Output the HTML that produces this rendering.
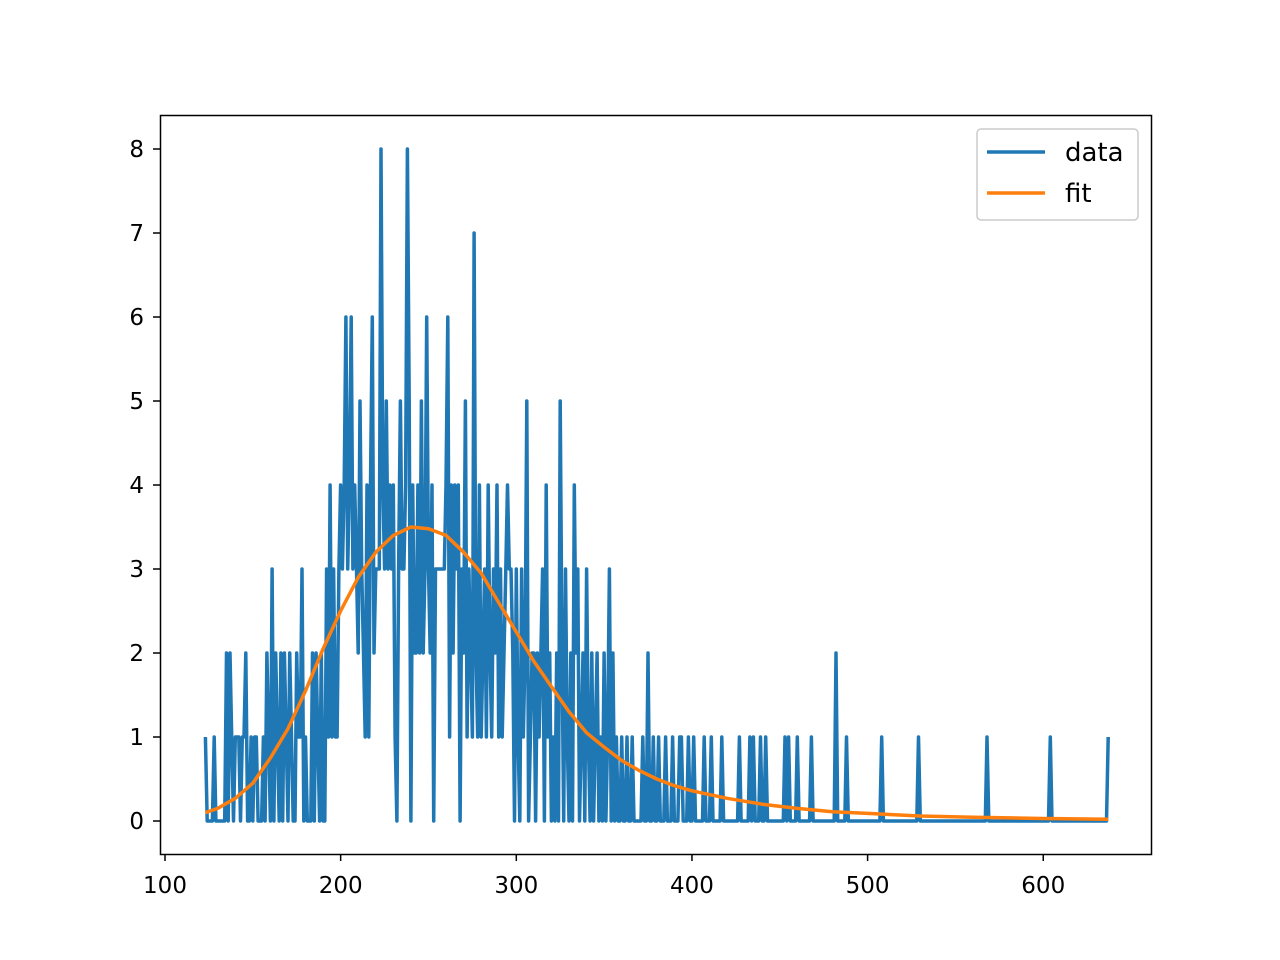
<!DOCTYPE html>
<html><head><meta charset="utf-8"><style>
body{margin:0;background:#fff;}
svg{display:block;font-family:"DejaVu Sans","Liberation Sans",sans-serif;}
</style></head><body>
<svg id="chart" width="1280" height="960" xmlns="http://www.w3.org/2000/svg">
<rect width="1280" height="960" fill="#fff"/>
<g id="marks"></g>
<rect x="160.5" y="115.5" width="991" height="739" fill="none" stroke="#000" stroke-width="1.5"/>
<g id="axes"></g>
<g>
<rect x="977" y="129" width="161" height="91" rx="4" fill="#fff" fill-opacity="0.8" stroke="#ccc" stroke-width="1.5"/>
<line x1="987" y1="152" x2="1045" y2="152" stroke="#1f77b4" stroke-width="3.5"/>
<text x="1065" y="161" font-size="26">data</text>
<line x1="987" y1="193" x2="1045" y2="193" stroke="#ff7f0e" stroke-width="3.5"/>
<text x="1065" y="202" font-size="26">fit</text>
</g>
</svg>
<script>
const dataStart = 123;
const dataValues = [
1,0,0,0,0,1,0,0,0,0,0,0,2,0,2,1,0,1,1,1,
0,1,1,2,0,0,1,0,1,1,0,0,0,1,0,2,1,0,3,0,
2,1,0,2,0,2,1,0,2,1,0,0,2,1,1,3,0,1,0,0,
0,2,0,2,1,0,2,0,0,3,1,4,1,3,1,1,3,4,3,4,
6,3,4,6,3,4,3,2,5,3,2,1,4,1,4,6,2,3,3,3,
8,4,3,5,3,4,3,4,1,0,3,5,3,3,4,8,5,0,4,2,
2,4,2,5,2,3,6,3,2,4,0,3,3,3,3,3,3,4,6,1,
4,2,4,3,4,0,3,2,5,1,3,2,1,7,2,1,4,1,2,3,
1,4,2,1,3,2,4,1,3,1,2,3,4,3,3,2,0,3,1,0,
3,1,2,5,0,1,2,2,0,2,1,2,3,0,4,1,2,0,1,0,
2,0,5,2,0,3,1,0,2,0,4,2,3,0,1,2,0,3,1,0,
2,0,1,2,0,1,0,2,0,1,3,0,2,0,1,0,0,1,0,0,
1,0,0,1,0,0,0,0,0,1,0,0,2,0,0,1,0,0,1,0,
0,0,1,0,0,0,1,0,0,0,1,1,0,0,0,1,0,0,1,0,
0,0,0,0,1,0,0,0,1,0,0,0,0,0,1,0,0,0,0,0,
0,0,0,0,1,0,0,0,0,0,1,0,1,0,0,0,1,0,0,1,
0,0,0,0,0,0,0,0,0,0,1,0,1,0,0,0,0,1,0,0,
0,0,0,0,0,1,0,0,0,0,0,0,0,0,0,0,0,0,0,2
];
const dataEnd = 637;
const spikeX = [488, 508, 529, 568, 604, 637];
const spikeY = [1, 1, 1, 1, 1, 1];
const fitX = [123,130,140,150,160,170,180,190,200,210,220,230,240,250,260,270,280,290,300,310,320,330,340,350,360,370,380,390,400,420,440,460,480,500,530,560,600,637];
const fitY = [0.1,0.15,0.27,0.45,0.75,1.1,1.55,2.05,2.5,2.9,3.2,3.4,3.5,3.48,3.4,3.2,2.95,2.6,2.25,1.9,1.6,1.3,1.05,0.88,0.72,0.6,0.5,0.42,0.36,0.27,0.2,0.15,0.11,0.09,0.06,0.045,0.03,0.02];
const xTicks = [100,200,300,400,500,600];
const yTicks = [0,1,2,3,4,5,6,7,8];

const xs = v => 165 + (v - 100) * 1.7565;
const ys = v => 821 - v * 84;
const NS = "http://www.w3.org/2000/svg";
const marks = document.getElementById('marks');
const axes = document.getElementById('axes');

const seriesX = [], seriesY = [];
for (let x = dataStart; x <= dataEnd; x++) {
  const i = x - dataStart;
  let v = i < dataValues.length ? dataValues[i] : 0;
  const k = spikeX.indexOf(x);
  if (k >= 0) v = spikeY[k];
  seriesX.push(x); seriesY.push(v);
}
function poly(X, Y, color, name) {
  const p = document.createElementNS(NS, 'polyline');
  p.setAttribute('points', X.map((x, i) => xs(x).toFixed(1) + ',' + ys(Y[i]).toFixed(1)).join(' '));
  p.setAttribute('fill', 'none');
  p.setAttribute('stroke', color);
  p.setAttribute('stroke-width', '3.5');
  p.setAttribute('stroke-linejoin', 'round');
  
  
  marks.appendChild(p);
}
poly(seriesX, seriesY, '#1f77b4', 'data-line');
poly(fitX, fitY, '#ff7f0e', 'fit-line');

xTicks.forEach(t => {
  const l = document.createElementNS(NS, 'line');
  l.setAttribute('x1', xs(t)); l.setAttribute('x2', xs(t));
  l.setAttribute('y1', 854); l.setAttribute('y2', 861);
  l.setAttribute('stroke', '#000'); l.setAttribute('stroke-width', '1.5');
  
  
  axes.appendChild(l);
  const tx = document.createElementNS(NS, 'text');
  tx.setAttribute('x', xs(t)); tx.setAttribute('y', 893);
  tx.setAttribute('text-anchor', 'middle'); tx.setAttribute('font-size', '23');
  tx.textContent = t;
  
  
  axes.appendChild(tx);
});
yTicks.forEach(t => {
  const l = document.createElementNS(NS, 'line');
  l.setAttribute('x1', 153); l.setAttribute('x2', 160);
  l.setAttribute('y1', ys(t)); l.setAttribute('y2', ys(t));
  l.setAttribute('stroke', '#000'); l.setAttribute('stroke-width', '1.5');
  
  
  axes.appendChild(l);
  const tx = document.createElementNS(NS, 'text');
  tx.setAttribute('x', 144); tx.setAttribute('y', ys(t) + 8);
  tx.setAttribute('text-anchor', 'end'); tx.setAttribute('font-size', '23');
  tx.textContent = t;
  
  
  axes.appendChild(tx);
});
</script>
</body></html>
